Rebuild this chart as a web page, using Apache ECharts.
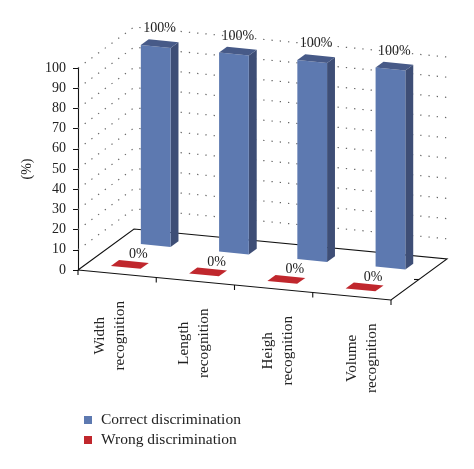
<!DOCTYPE html>
<html><head><meta charset="utf-8">
<style>html,body{margin:0;padding:0;background:#fff}#c{width:474px;height:469px}</style>
<script src="https://cdn.jsdelivr.net/npm/echarts@6/dist/echarts.min.js"></script>
</head><body><div id="c"></div>
<script>
const categories = ['Width\nrecognition','Length\nrecognition','Heigh\nrecognition','Volume\nrecognition'];
const correctValues = [100,100,100,100];
const wrongValues = [0,0,0,0];
const gridLines = [10,20,30,40,50,60,70,80,90,100];
const FONT = '"Liberation Serif", serif';
const INK = '#222';
const SLOPE = 30/313, DX = 56, DY = -41, BAR_HEIGHT_SCALE = 0.985;

function project(api, cat, bandOff, depth, value){
  const p = api.coord([cat, value]);
  const band = api.size([1,0])[0];
  const left = api.coord([0,0])[0] - band/2;
  const x = p[0] + bandOff*band;
  return [x + DX*depth, p[1] + (x-left)*SLOPE + DY*depth];
}
function poly(points, fill, z){
  return {type:'polygon', z2:z||0, shape:{points}, style:{fill, stroke:null}};
}
function barItem(colors, d0, d1, lx, ly){
  return function(params, api){
    const c = api.value(0), raw = api.value(1), v = raw*BAR_HEIGHT_SCALE, w = 0.19;
    const P = (s,d,val)=>project(api,c,s*w,d,val);
    const kids = [];
    if (v > 0){
      kids.push(poly([P(1,d0,0),P(1,d1,0),P(1,d1,v),P(1,d0,v)], colors.side));
      kids.push(poly([P(-1,d0,0),P(1,d0,0),P(1,d0,v),P(-1,d0,v)], colors.front));
    }
    kids.push(poly([P(-1,d0,v),P(1,d0,v),P(1,d1,v),P(-1,d1,v)], colors.top));
    const t = P(0,(d0+d1)/2,v);
    kids.push({type:'text', z2:5, x:t[0]+lx, y:t[1]+ly, style:{text:raw+'%', font:'14px '+FONT, fill:INK, textAlign:'center', textVerticalAlign:'middle'}});
    return {type:'group', children:kids};
  };
}
function wallItem(params, api){
  const v = api.value(1);
  const a = project(api,0,-0.5,0,v), b = project(api,0,-0.5,1,v), c = project(api,3,0.5,1,v);
  return {type:'polyline', shape:{points:[a,b,c]}, style:{fill:null, stroke:'#666', lineWidth:1.2, lineDash:[1.3,7]}};
}
function floorItem(params, api){
  const A = project(api,0,-0.5,0,0), B = project(api,3,0.5,0,0),
        C = project(api,3,0.5,1,0), D = project(api,0,-0.5,1,0);
  const line = pts=>({type:'polyline', shape:{points:pts}, style:{fill:null, stroke:'#111', lineWidth:1.1}});
  const kids = [line([A,B,C,D,A])];
  categories.forEach((_,i)=>{
    const t = project(api,i,0.5,0,0);
    kids.push(line([t,[t[0],t[1]+5]]));
  });
  kids.push(line([A,[A[0],A[1]+5]]));
  const m = project(api,3,0.5,0.5,0);
  kids.push(line([m,[m[0]-5,m[1]]]));
  return {type:'group', children:kids};
}
function catLabelItem(params, api){
  const c = api.value(0);
  const p = project(api,c,0,0,0);
  const left = project(api,0,-0.5,0,0)[0];
  return {type:'text', rotation:Math.PI/2, x:p[0]+(p[0]-left)*0.0727-9.8, y:p[1]+62,
    style:{text:categories[c], font:'15.3px '+FONT, lineHeight:20, fill:INK, textAlign:'center', textVerticalAlign:'middle'}};
}
const idx = a => a.map((v,i)=>[i,v]);
const chart = echarts.init(document.getElementById('c'), null, {renderer:'canvas'});
chart.setOption({
  animation:false,
  backgroundColor:'#fff',
  textStyle:{fontFamily:FONT},
  grid:{left:78, top:68, width:313, height:202},
  xAxis:{type:'category', data:categories, show:false},
  yAxis:{type:'value', min:0, max:100, interval:10, name:'(%)', nameLocation:'middle', nameRotate:90, nameGap:41,
    nameTextStyle:{fontFamily:FONT, fontSize:14, color:INK},
    axisLine:{show:true, lineStyle:{color:'#111', width:1.1}},
    axisTick:{show:true, length:5, lineStyle:{color:'#111'}},
    axisLabel:{fontFamily:FONT, fontSize:14, color:INK, margin:12},
    splitLine:{show:false}},
  legend:{orient:'vertical', left:79, top:407, itemWidth:8, itemHeight:8, itemGap:4, icon:'rect',
    data:['Correct discrimination','Wrong discrimination'],
    textStyle:{fontFamily:FONT, fontSize:15.5, color:INK, padding:[0,0,0,4]}},
  series:[
    {type:'custom', name:'walls', silent:true, data:gridLines.map(v=>[0,v]), renderItem:wallItem, encode:{x:0,y:1}},
    {type:'custom', name:'floor', silent:true, data:[[0,0]], renderItem:floorItem, encode:{x:0,y:1}},
    {type:'custom', name:'Correct discrimination', itemStyle:{color:'#5d79b0'}, data:idx(correctValues), encode:{x:0,y:1},
      renderItem:barItem({front:'#5d79b0',side:'#3e4e76',top:'#475a88'},0.689,0.83,0,-15)},
    {type:'custom', name:'Wrong discrimination', itemStyle:{color:'#c0272d'}, data:idx(wrongValues), encode:{x:0,y:1},
      renderItem:barItem({front:'#c0272d',side:'#8c1d20',top:'#c0272d'},0.154,0.30,8.5,-10)},
    {type:'custom', name:'labels', silent:true, data:categories.map((_,i)=>[i,0]), renderItem:catLabelItem, encode:{x:0,y:1}}
  ]
});
</script></body></html>
